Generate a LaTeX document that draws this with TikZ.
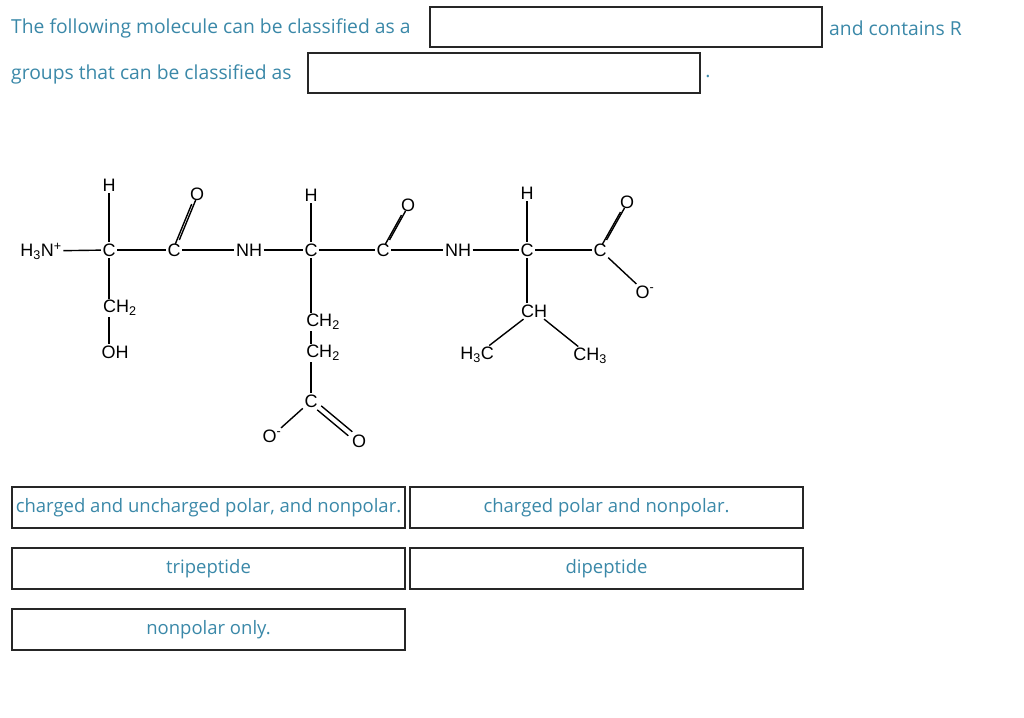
\documentclass[tikz,border=0pt]{standalone}
\usepackage{fontspec}
\setmainfont{Open Sans}
\newfontfamily\chem{Liberation Sans}
\definecolor{qtxt}{HTML}{3A88A8}
\begin{document}
\begin{tikzpicture}[x=1pt,y=-1pt,
  q/.style={text=qtxt,font=\fontsize{19.3}{22}\selectfont,inner sep=0pt},
  box/.style={draw=black!85,line width=1.3pt,inner sep=0pt},
  ans/.style={draw=black!85,line width=1.2pt,minimum width=393pt,minimum height=41pt,text=qtxt,font=\fontsize{18.5}{22}\selectfont,inner sep=0pt},
  a/.style={font=\chem\fontsize{18}{20}\selectfont,inner sep=1.5pt},
  b/.style={line width=1.4pt,black}]
\useasboundingbox (0,0) rectangle (1024,717);
\node[q,anchor=west] (t1) at (11,28) {The following molecule can be classified as a};
\node[box,minimum width=392pt,minimum height=40pt] (b1) at (626,27) {};
\node[q,anchor=west] (t2) at (829,28) {and contains R};
\node[q,anchor=west] (t3) at (11,74) {groups that can be classified as};
\node[box,minimum width=392pt,minimum height=40pt] (b2) at (504,73) {};
\node[q] (dot) at (708,76) {.};
% molecule
\node[a] (n1) at (41,251) {H\textsubscript{3}N\textsuperscript{+}};
\node[a] (c1) at (109,250) {C};
\node[a] (h1) at (109,185) {H};
\node[a] (k1) at (174,250) {C};
\node[a] (o1) at (197,194) {O};
\node[a] (nh1) at (249,250) {NH};
\node[a] (c2) at (311,250) {C};
\node[a] (h2) at (311,195) {H};
\node[a] (k2) at (383,250) {C};
\node[a] (o2) at (408,205) {O};
\node[a] (nh2) at (458,250) {NH};
\node[a] (c3) at (527,250) {C};
\node[a] (h3) at (527,193) {H};
\node[a] (k3) at (600,250) {C};
\node[a] (o3) at (627,202) {O};
\node[a] (om3) at (645,292) {O\textsuperscript{-}};
\node[a] (s1) at (120,308) {CH\textsubscript{2}};
\node[a] (s2) at (115,352) {OH};
\node[a] (e1) at (323,322) {CH\textsubscript{2}};
\node[a] (e2) at (323,353) {CH\textsubscript{2}};
\node[a] (e3) at (311,401) {C};
\node[a] (eo1) at (272,436) {O\textsuperscript{-}};
\node[a] (eo2) at (359,441) {O};
\node[a] (v1) at (534,311) {CH};
\node[a] (v2) at (477,355) {H\textsubscript{3}C};
\node[a] (v3) at (590,356) {CH\textsubscript{3}};
\draw[b] (n1) -- (c1); \draw[b] (c1) -- (h1); \draw[b] (c1) -- (k1);
\draw[b] (k1) -- (nh1); \draw[b] (nh1) -- (c2); \draw[b] (c2) -- (h2);
\draw[b] (c2) -- (k2); \draw[b] (k2) -- (nh2); \draw[b] (nh2) -- (c3);
\draw[b] (c3) -- (h3); \draw[b] (c3) -- (k3); \draw[b] (k3) -- (om3);
\draw[b] (c1) -- (s1.north -| c1); \draw[b] (s1.south -| c1) -- (s2.north -| c1);
\draw[b] (c2) -- (e1.north -| c2); \draw[b] (e1.south -| c2) -- (e2.north -| c2);
\draw[b] (e2.south -| c2) -- (e3); \draw[b] (e3) -- (eo1);
\draw[b] (c3) -- (v1.north -| c3); \draw[b] (v1) -- (v2); \draw[b] (v1) -- (v3);
\foreach \p/\q in {k1/o1,k2/o2,k3/o3,e3/eo2}{
  \draw[b,transform canvas={xshift=-2pt,yshift=-2pt}] (\p) -- (\q);
  \draw[b,transform canvas={xshift=2pt,yshift=2pt}] (\p) -- (\q);}
% answers
\node[ans] (a1) at (208.5,507.5) {charged and uncharged polar, and nonpolar.};
\node[ans] (a2) at (606.5,507.5) {charged polar and nonpolar.};
\node[ans] (a3) at (208.5,568.5) {tripeptide};
\node[ans] (a4) at (606.5,568.5) {dipeptide};
\node[ans] (a5) at (208.5,629.5) {nonpolar only.};
\end{tikzpicture}
\end{document}
